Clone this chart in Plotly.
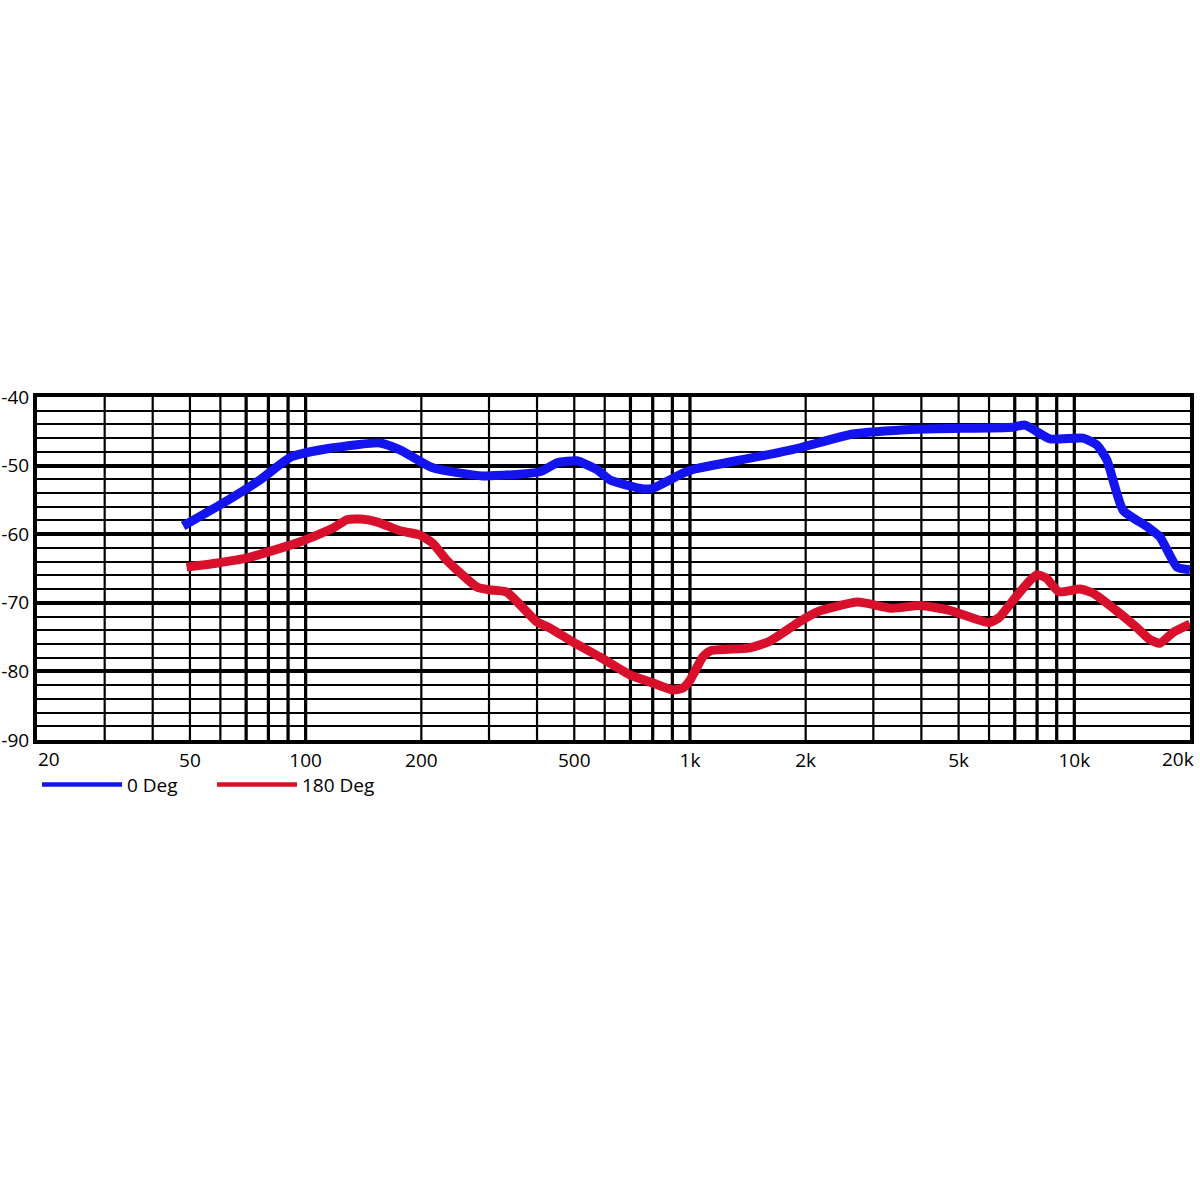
import plotly.graph_objects as go

# ---- data ----
freq_0deg = [48, 60, 76, 92, 118, 156, 176, 214, 289, 407, 451, 508, 573, 620, 755, 800,
             960, 1030, 1500, 1934, 2655, 3900, 6925, 7445, 8645, 10530, 11460, 12160,
             13390, 15460, 16700, 18500, 20000]
db_0deg = [-58.8, -55.7, -52.1, -48.7, -47.4, -46.7, -47.7, -50.3, -51.5, -50.9, -49.6, -49.3,
           -50.6, -52.1, -53.4, -53.3, -51.1, -50.5, -48.7, -47.4, -45.4, -44.7, -44.4, -44.1,
           -46.1, -46.0, -47.0, -49.2, -56.5, -58.9, -60.4, -64.8, -65.2]

freq_180deg = [49, 59, 70, 97, 118, 128, 139, 153, 176, 198, 214, 233, 279, 300, 333, 400,
               433, 495, 583, 698, 802, 903, 960, 1000, 1080, 1130, 1417, 1600, 1934, 2150,
               2730, 3355, 3960, 4740, 5990, 6360, 7100, 7680, 8000, 8450, 9120, 10340,
               11200, 12840, 14470, 15670, 16700, 18100, 20000]
db_180deg = [-64.8, -64.2, -63.5, -61.1, -59.1, -57.9, -57.8, -58.2, -59.5, -60.1, -61.3, -63.8,
             -67.7, -68.1, -68.4, -72.8, -73.7, -75.7, -77.9, -80.5, -81.7, -82.7, -82.4,
             -81.3, -77.9, -77.0, -76.6, -75.7, -72.7, -71.3, -69.9, -70.8, -70.4, -71.1,
             -72.9, -72.2, -68.9, -66.7, -65.9, -66.4, -68.4, -68.0, -68.6, -71.1, -73.5,
             -75.3, -75.9, -74.3, -73.1]

x_tick_vals = [20, 50, 100, 200, 500, 1000, 2000, 5000, 10000, 20000]
x_tick_text = ["20", "50", "100", "200", "500", "1k", "2k", "5k", "10k", "20k"]
y_tick_vals = [-90, -80, -70, -60, -50, -40]
y_tick_text = ["-90", "-80", "-70", "-60", "-50", "-40"]

series_names = ["0 Deg", "180 Deg"]
series_colors = ["#1414f0", "#d8102c"]

# vertical grid frequencies
thin_grid = [m * d for d in (10, 100, 1000) for m in range(2, 10)] + [100, 1000, 10000]
thick_grid = [70, 80, 90, 100, 700, 800, 900, 1000, 7000, 8000, 9000, 10000]

FONT = "Open Sans"
FS = 19

fig = go.Figure()
for f, d, name, col in [(freq_0deg, db_0deg, series_names[0], series_colors[0]),
                        (freq_180deg, db_180deg, series_names[1], series_colors[1])]:
    fig.add_trace(go.Scatter(
        x=f, y=d, mode="lines", name=name, showlegend=False,
        line=dict(color=col, width=9, shape="spline", smoothing=0.5),
    ))
# legend entries (thinner sample line, as in the reference)
for name, col in zip(series_names, series_colors):
    fig.add_trace(go.Scatter(x=[None], y=[None], mode="lines", name=name,
                             line=dict(color=col, width=4.5)))

shapes = []
for g in thin_grid:
    if 20 < g < 20000:
        shapes.append(dict(type="line", xref="x", yref="paper", x0=g, x1=g, y0=0, y1=1,
                           line=dict(color="black", width=2.2), layer="below"))
for g in thick_grid:
    shapes.append(dict(type="line", xref="x", yref="paper", x0=g, x1=g, y0=0, y1=1,
                       line=dict(color="black", width=3.2), layer="below"))

# end labels sit inside the frame edges in the reference
annotations = [
    dict(x=1.30103, y=0, xref="x", yref="paper", text=x_tick_text[0], showarrow=False,
         xanchor="left", yanchor="top", yshift=-4, xshift=-1,
         font=dict(family=FONT, size=FS, color="black")),
    dict(x=4.30103, y=0, xref="x", yref="paper", text=x_tick_text[-1], showarrow=False,
         xanchor="right", yanchor="top", yshift=-4, xshift=6,
         font=dict(family=FONT, size=FS, color="black")),
]

fig.update_layout(
    width=1200, height=1200,
    paper_bgcolor="white", plot_bgcolor="white",
    margin=dict(l=37, r=10, t=397, b=460, pad=0),
    font=dict(family=FONT, size=FS, color="black"),
    shapes=shapes, annotations=annotations,
    showlegend=True,
    legend=dict(orientation="h", x=0.0, xanchor="left", y=-0.075, yanchor="top",
                font=dict(family=FONT, size=FS, color="black"),
                itemwidth=80, bgcolor="rgba(0,0,0,0)", traceorder="normal",
                entrywidth=80),
)
fig.update_xaxes(
    type="log", range=[1.30103, 4.30103], automargin=False,
    tickvals=x_tick_vals[1:-1], ticktext=x_tick_text[1:-1],
    showgrid=False, zeroline=False,
    showline=True, mirror=True, linecolor="black", linewidth=4,
    ticks="", tickfont=dict(family=FONT, size=FS, color="black"),
)
fig.update_yaxes(
    range=[-90, -40], automargin=False,
    tickvals=y_tick_vals, ticktext=y_tick_text,
    showgrid=True, gridcolor="black", gridwidth=4,
    minor=dict(dtick=2, showgrid=True, gridcolor="black", gridwidth=2.2, tick0=-90),
    zeroline=False,
    showline=True, mirror=True, linecolor="black", linewidth=4,
    ticks="", ticklabelstandoff=0, tickfont=dict(family=FONT, size=FS, color="black"),
)

fig.write_html("out.html", config={"displayModeBar": False},
               post_script="document.body.style.margin='0';document.body.style.overflow='hidden';")
